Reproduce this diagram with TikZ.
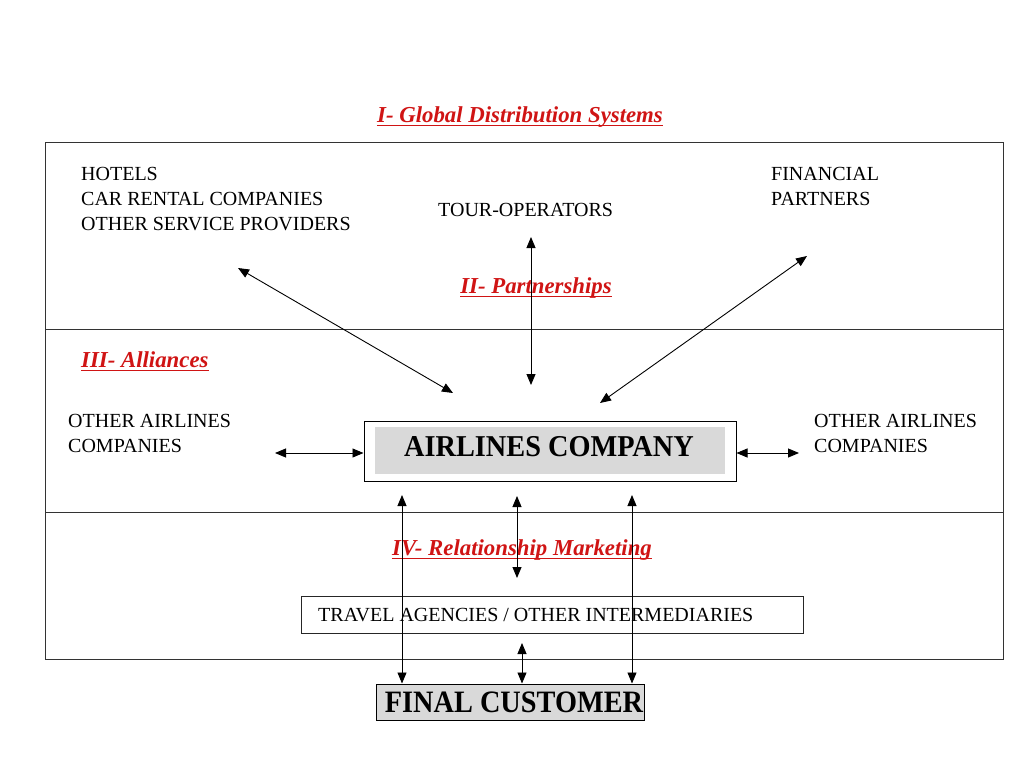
\documentclass[tikz,border=0pt]{standalone}
\usepackage{fontspec}
\setmainfont{Liberation Serif}
\usetikzlibrary{arrows.meta}
\definecolor{redlbl}{RGB}{208,20,20}
\definecolor{boxgrey}{RGB}{217,217,217}
\begin{document}
\begin{tikzpicture}[x=1pt,y=-1pt,
  txt/.style={inner sep=0pt, font=\fontsize{20}{24.8}\selectfont, align=left},
  sect/.style={inner sep=0pt, font=\fontsize{22.8}{25}\selectfont\bfseries\itshape, text=redlbl},
  uline/.style={draw=redlbl, line width=1.4pt},
  dbl/.style={{Triangle[length=11pt,width=9pt]}-{Triangle[length=11pt,width=9pt]}, line width=0.9pt},
  frameline/.style={draw=black!80, line width=1pt},
  big/.style={inner sep=0pt, font=\fontsize{28.3}{30}\selectfont\bfseries}]
\useasboundingbox (0,0) rectangle (1024,768);
\fill[white] (0,0) rectangle (1024,768);
% frame and bands
\draw[frameline] (45,142) rectangle (1003,659);
\draw[frameline] (45,329) -- (1003,329);
\draw[frameline] (45,512) -- (1003,512);
% section labels
\node[sect, anchor=base] (s1) at (520,122) {I- Global Distribution Systems};
\draw[uline] ([yshift=-3.5pt]s1.base west) -- ([yshift=-3.5pt]s1.base east);
\node[sect, anchor=base] (s2) at (536,293) {II- Partnerships};
\draw[uline] ([yshift=-3.5pt]s2.base west) -- ([yshift=-3.5pt]s2.base east);
\node[sect, anchor=base west] (s3) at (81,367) {III- Alliances};
\draw[uline] ([yshift=-3.5pt]s3.base west) -- ([yshift=-3.5pt]s3.base east);
\node[sect, anchor=base] (s4) at (522,555) {IV- Relationship Marketing};
\draw[uline] ([yshift=-3.5pt]s4.base west) -- ([yshift=-3.5pt]s4.base east);
% text blocks
\node[txt, anchor=north west] (hot) at (81,167.5) {HOTELS\\CAR RENTAL COMPANIES\\OTHER SERVICE PROVIDERS};
\node[txt, anchor=north west] (tour) at (438,203.5) {TOUR-OPERATORS};
\node[txt, anchor=north west] (fin) at (771,167) {FINANCIAL\\PARTNERS};
\node[txt, anchor=north west] (oal) at (68,414) {OTHER AIRLINES\\COMPANIES};
\node[txt, anchor=north west] (oar) at (814,414) {OTHER AIRLINES\\COMPANIES};
% airlines company
\node[draw=black, line width=1pt, minimum width=372pt, minimum height=60pt, inner sep=0pt] (ac) at (550,451) {};
\node[fill=boxgrey, minimum width=350pt, minimum height=47pt, inner sep=0pt] (acfill) at (550,450.5) {};
\node[big, anchor=base] (actext) at (549,456.5) {\scalebox{1}[1.07]{AIRLINES COMPANY}};
% travel agencies
\node[draw=black!85, line width=1pt, minimum width=502pt, minimum height=37pt, inner sep=0pt] (ta) at (552,614.5) {};
\node[txt, anchor=base west] (tatext) at (318,621) {TRAVEL AGENCIES / OTHER INTERMEDIARIES};
% final customer
\node[draw=black, fill=boxgrey, line width=1pt, minimum width=268pt, minimum height=36pt, inner sep=0pt] (fc) at (510,702) {};
\node[big, anchor=base] (fctext) at (514,712.5) {\scalebox{1}[1.1]{FINAL CUSTOMER}};
% arrow end points
\coordinate (hotA) at (238,268);
\coordinate (hotB) at (453,393);
\coordinate (tourA) at (531,237);
\coordinate (tourB) at (531,385);
\coordinate (finA) at (807,256);
\coordinate (finB) at (600,403);
\coordinate (oalA) at (275,453);
\coordinate (oarA) at (799,453);
\coordinate (v1) at (402,495);
\coordinate (v2) at (632,495);
\coordinate (v3a) at (517,496);
\coordinate (v3b) at (517,578);
\coordinate (v4) at (522,643);
% connectors
\draw[dbl] (hotA) -- (hotB);
\draw[dbl] (tourA) -- (tourB);
\draw[dbl] (finA) -- (finB);
\draw[dbl] (oalA) -- (oalA -| ac.west);
\draw[dbl] (ac.east |- oarA) -- (oarA);
\draw[dbl] (v1) -- (v1 |- fc.north);
\draw[dbl] (v2) -- (v2 |- fc.north);
\draw[dbl] (v3a) -- (v3b);
\draw[dbl] (v4) -- (v4 |- fc.north);
\end{tikzpicture}
\end{document}
